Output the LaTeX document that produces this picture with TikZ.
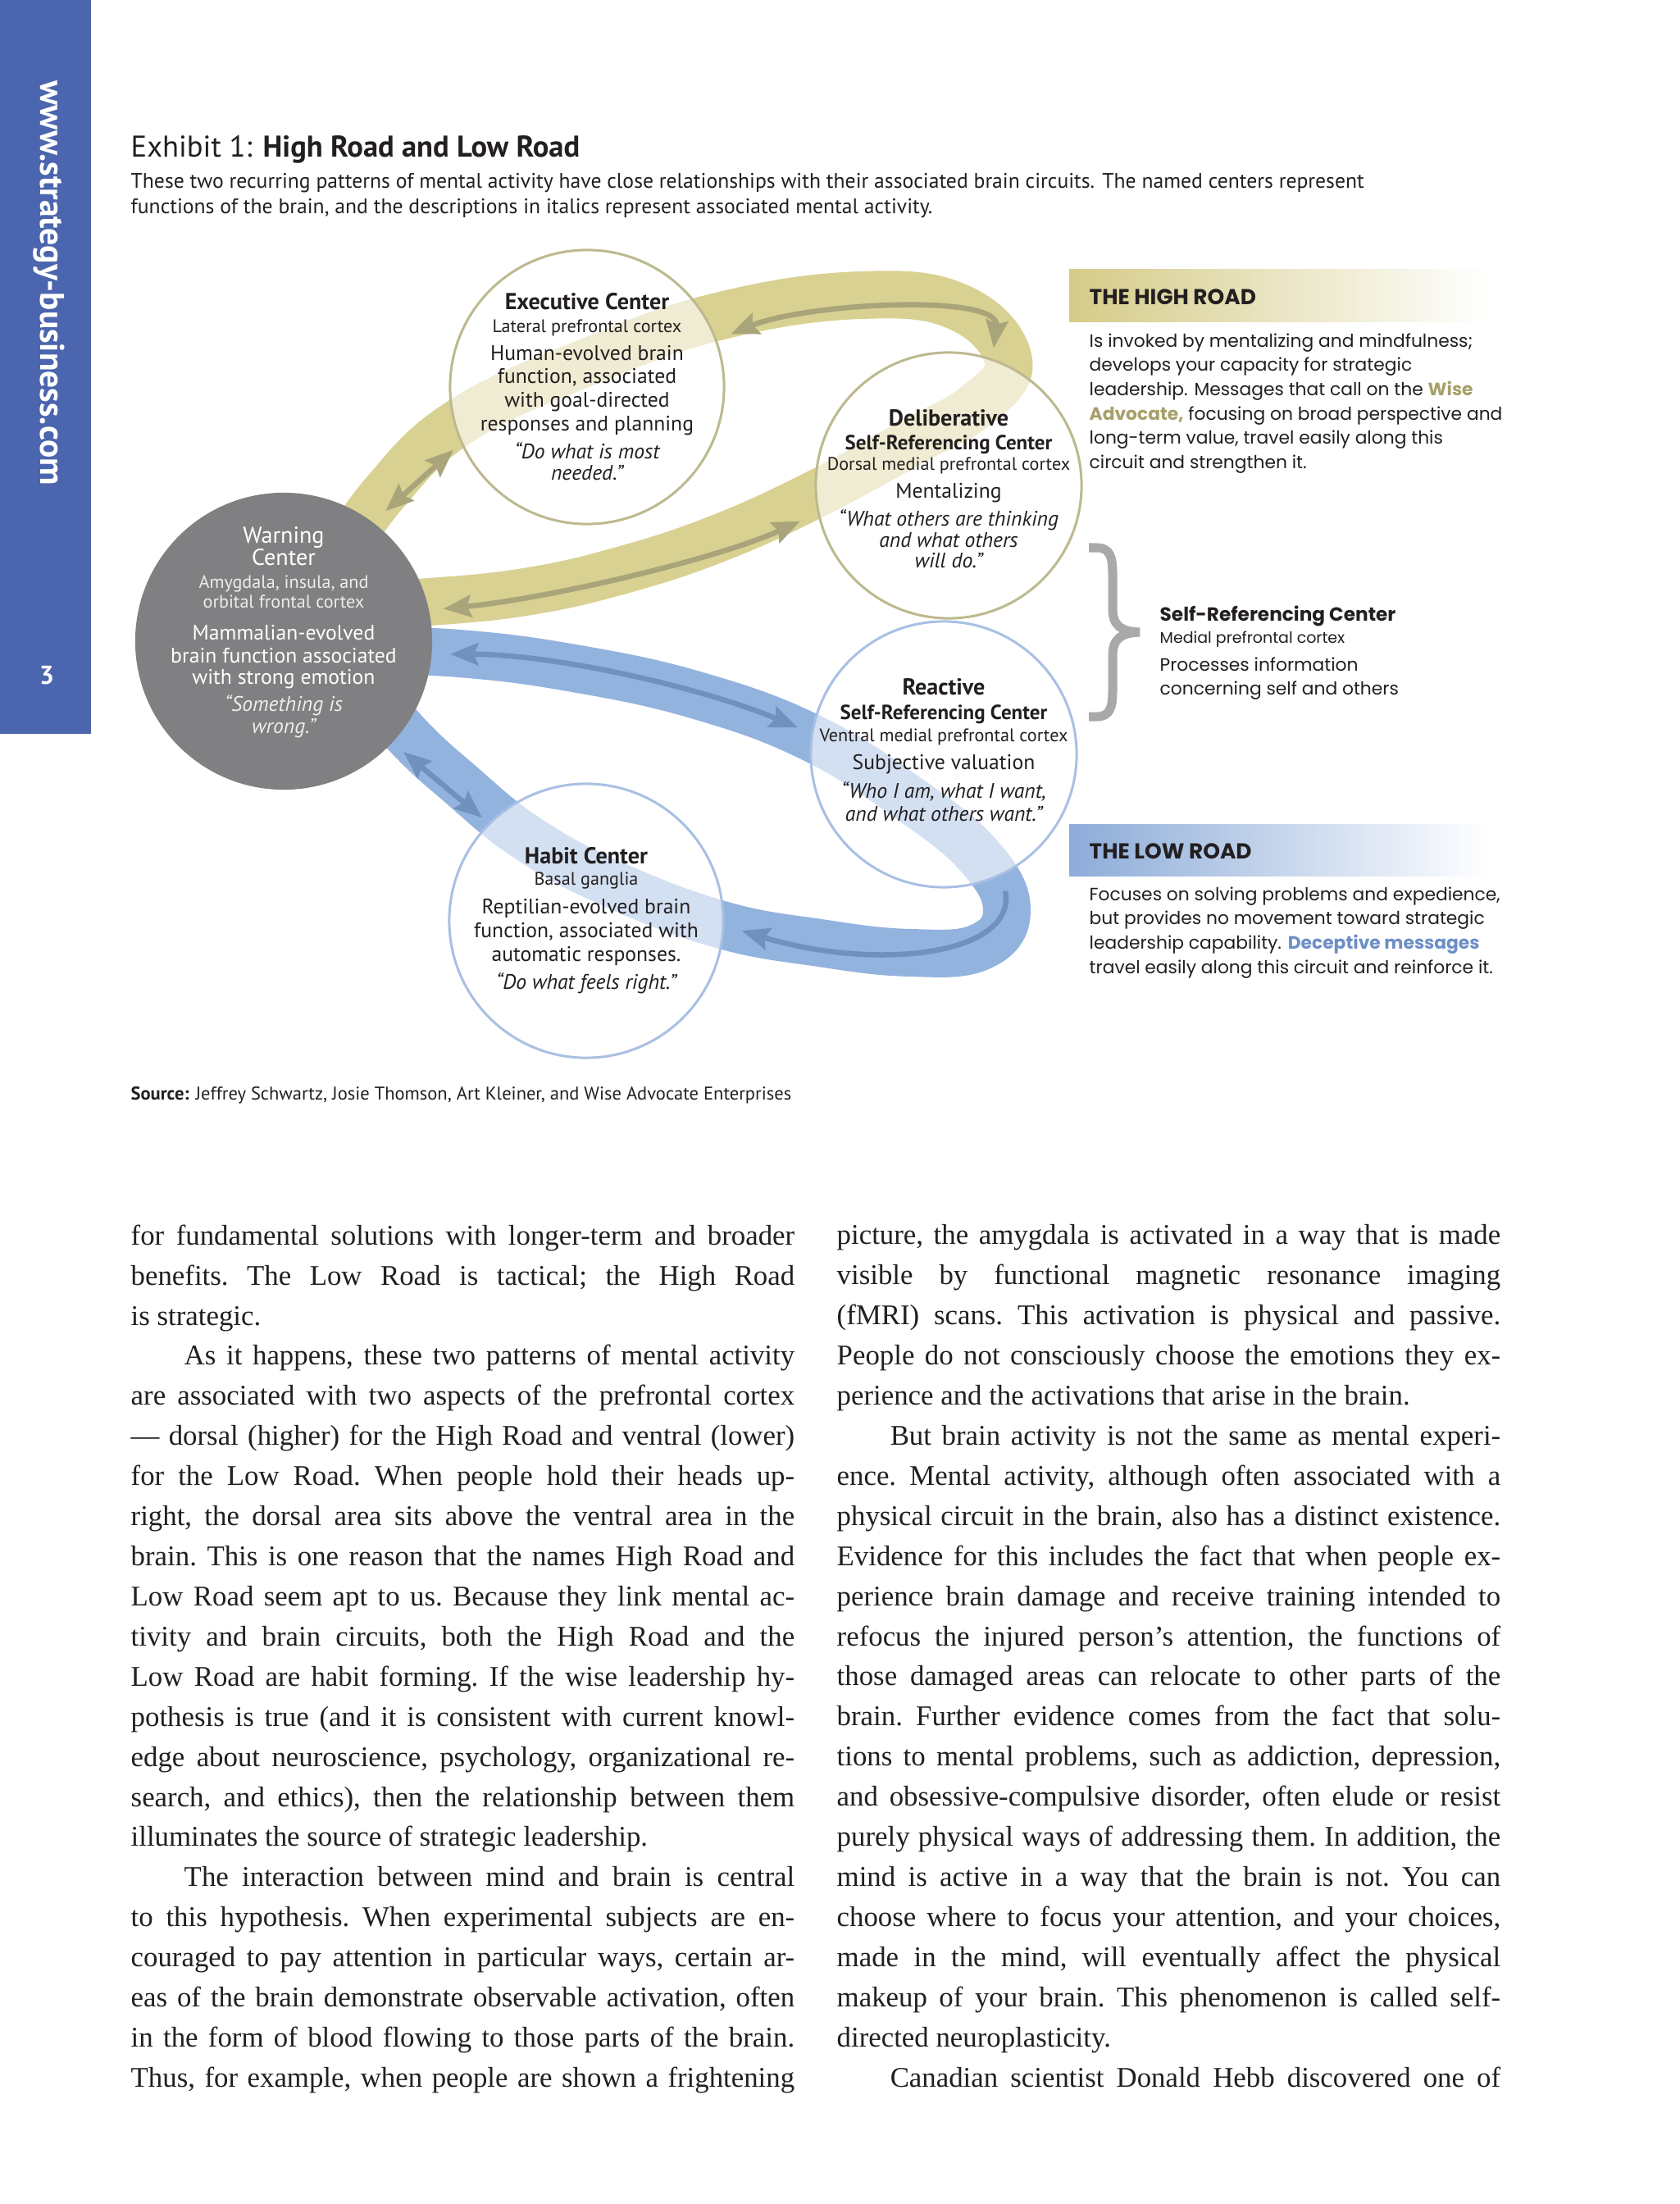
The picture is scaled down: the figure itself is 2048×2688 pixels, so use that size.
\documentclass[tikz,border=0pt]{standalone}
\usepackage{fontspec}
\setmainfont{Liberation Serif}
\newfontfamily\dinfont{PT Sans}
\newfontfamily\popfont{Poppins}
\usepackage{tikz}
\usetikzlibrary{arrows.meta,positioning,calc}
\usepackage{xcolor}
\definecolor{sbblue}{HTML}{4B66AE}
\definecolor{inkgray}{HTML}{231F20}
\definecolor{warngray}{HTML}{808083}
\definecolor{highband}{HTML}{D9D192}
\definecolor{highdark}{HTML}{A9A47A}
\definecolor{highrim}{HTML}{BDB98F}
\definecolor{highhead}{HTML}{D5CB88}
\definecolor{lowband}{HTML}{93B3DF}
\definecolor{lowdark}{HTML}{7090BE}
\definecolor{lowrim}{HTML}{A8C0E3}
\definecolor{lowhead}{HTML}{8DACD9}
\definecolor{wisegreen}{HTML}{A7A06A}
\definecolor{deceptblue}{HTML}{6D8EC7}
\definecolor{bracegray}{HTML}{A9A9AC}

% text sizes inside the circles
\newcommand{\ringtitle}{\bfseries\fontsize{8}{8.2}\selectfont}
\newcommand{\ringsref}{\bfseries\fontsize{7.1}{8.2}\selectfont}
\newcommand{\ringanat}{\fontsize{6.3}{8.2}\selectfont}
\newcommand{\ringquote}{\itshape\fontsize{7.3}{8.2}\selectfont}
\newcommand{\warntitle}{\fontsize{8}{8.2}\selectfont}

% article columns, one box per printed line
\newlength{\colw}
\setlength{\colw}{8.09cm}
\newcommand{\bodysetup}{\fontsize{9.9}{13.91}\selectfont\frenchspacing\spaceskip=.25em plus .4em minus .1em\relax}
\newcommand{\jline}[1]{\hbox to\colw{#1}}
\newcommand{\indline}[1]{\hbox to\colw{\hskip0.65cm#1}}
\newcommand{\lastline}[1]{\hbox to\colw{#1\hfil}}

\begin{document}
\begin{tikzpicture}[x=0.01cm, y=-0.01cm,
  >={Stealth[length=0.34cm,width=0.27cm,inset=0.05cm]},
  hiband/.style={draw=highband, line width=0.58cm},
  loband/.style={draw=lowband, line width=0.58cm},
  hiarrow/.style={draw=highdark, line width=0.065cm},
  loarrow/.style={draw=lowdark, line width=0.065cm},
  hiring/.style={circle, draw=highrim, line width=0.03cm, fill=white, fill opacity=0.6, inner sep=0},
  loring/.style={circle, draw=lowrim, line width=0.03cm, fill=white, fill opacity=0.6, inner sep=0},
  warnring/.style={circle, fill=warngray, minimum size=3.62cm, inner sep=0},
  ringtext/.style={align=center, inner sep=0, text=inkgray, font=\dinfont\fontsize{7.3}{8.2}\selectfont},
  panelhead/.style={inner sep=0, text=inkgray, font=\popfont\bfseries\fontsize{7.5}{8}\selectfont},
  paneltext/.style={align=left, inner sep=0, text=inkgray, font=\popfont\fontsize{6.2}{8.42}\selectfont}]

\fill[white] (0,0) rectangle (2048,2688);
\useasboundingbox (0,0) rectangle (2048,2688);

% side strip
\fill[sbblue] (0,0) rectangle (111,895);
\node[rotate=-90, inner sep=0, text=white, font=\dinfont\bfseries\fontsize{11.8}{13}\selectfont] (siteurl) at (60,345) {www.strategy-business.com};
\node[inner sep=0, text=white, font=\dinfont\bfseries\fontsize{9}{10}\selectfont] (pagenum) at (57,824) {3};

% heading
\node[anchor=base west, inner sep=0, text=inkgray, font=\dinfont\fontsize{10.4}{12}\selectfont] (title) at (159,192) {Exhibit 1: \textbf{High Road and Low Road}};
\node[anchor=base west, inner sep=0, text=inkgray, font=\dinfont\fontsize{7.3}{8}\selectfont] (subone) at (159,230) {These two recurring patterns of mental activity have close relationships with their associated brain circuits. The named centers represent};
\node[anchor=base west, inner sep=0, text=inkgray, font=\dinfont\fontsize{7.3}{8}\selectfont] (subtwo) at (159,261) {functions of the brain, and the descriptions in italics represent associated mental activity.};

% the two roads
\draw[hiband] plot[smooth, tension=0.7] coordinates {(400,700) (470,600) (563,513) (720,440) (880,385) (1050,360) (1170,375) (1230,440) (1190,495) (1110,540) (1000,600) (880,655) (760,695) (640,722) (510,735) (400,740)};
\draw[loband] plot[smooth, tension=0.7] coordinates {(420,792) (560,797) (700,815) (850,848) (990,900) (1110,975) (1195,1045) (1228,1110) (1195,1155) (1110,1162) (1000,1150) (877,1127) (740,1075) (640,1020) (560,955) (500,900) (440,830)};

% centers
\node[hiring, minimum size=3.34cm] (exec) at (716,472) {};
\node[hiring, minimum size=3.24cm] (delib) at (1157,592) {};
\node[loring, minimum size=3.24cm] (react) at (1151,920) {};
\node[loring, minimum size=3.34cm] (habit) at (715,1123) {};
\node[warnring] (warn) at (346,782) {};

% messages travelling along the roads
\draw[hiarrow, <->, shorten <=0.2cm, shorten >=0.12cm] (warn.53) -- (exec.204);
\draw[hiarrow, <->, shorten <=0.18cm, shorten >=0.13cm] (exec.20) .. controls +(110,-45) and +(10,-80) .. (delib.71);
\draw[hiarrow, <->, shorten <=0.17cm, shorten >=0.23cm] (warn.12) .. controls +(150,-15) and +(-120,55) .. (delib.192);
\draw[loarrow, <->, shorten <=0.22cm, shorten >=0.18cm] (warn.355) .. controls +(150,0) and +(-130,-55) .. (react.171);
\draw[loarrow, <->, shorten <=0.17cm, shorten >=0.1cm] (warn.317) -- (habit.135);
\draw[loarrow, ->, shorten <=0.2cm, shorten >=0.22cm] (react.296) .. controls (1240,1165) and (1070,1185) .. (habit.358);

% circle texts
\node[ringtext] (exectxt) at (exec.center) {{\ringtitle Executive Center}\\[-0.5pt]{\ringanat Lateral prefrontal cortex}\\[1.5pt]Human-evolved brain\\function, associated\\with goal-directed\\responses and planning\\[1.5pt]{\ringquote “Do what is most}\\[-0.8pt]{\ringquote needed.”}};
\node[ringtext, yshift=-0.04cm] (delibtxt) at (delib.center) {{\ringtitle Deliberative}\\{\ringsref Self-Referencing Center}\\[-1.1pt]{\ringanat Dorsal medial prefrontal cortex}\\[1.5pt]Mentalizing\\[1.5pt]{\ringquote “What others are thinking}\\[-0.8pt]{\ringquote and what others}\\[-1.1pt]{\ringquote will do.”}};
\node[ringtext, yshift=0.05cm] (reacttxt) at (react.center) {{\ringtitle Reactive}\\[0.35pt]{\ringsref Self-Referencing Center}\\[-0.5pt]{\ringanat Ventral medial prefrontal cortex}\\[1.2pt]Subjective valuation\\[1.75pt]{\ringquote “Who I am, what I want,}\\{\ringquote and what others want.”}};
\node[ringtext] (habittxt) at (habit.center) {{\ringtitle Habit Center}\\[-0.8pt]{\ringanat Basal ganglia}\\[1.75pt]Reptilian-evolved brain\\function, associated with\\automatic responses.\\[1.5pt]{\ringquote “Do what feels right.”}};
\node[ringtext, text=white, yshift=0.11cm] (warntxt) at (warn.center) {{\warntitle Warning}\\[-0.5pt]{\warntitle Center}\\[-0.2pt]{\ringanat\color{white!93!black} Amygdala, insula, and}\\[-1.4pt]{\ringanat\color{white!93!black} orbital frontal cortex}\\[2.9pt]Mammalian-evolved\\[-0.2pt]brain function associated\\[-0.8pt]with strong emotion\\[1.2pt]{\ringquote\color{white!93!black} “Something is}\\[-0.5pt]{\ringquote\color{white!93!black} wrong.”}};

% high road panel
\shade[left color=highhead, right color=white] (1304,329) rectangle (1816,393);
\node[panelhead, anchor=west] (highhead) at (1328,362) {THE HIGH ROAD};
\node[paneltext, anchor=north west] (hightext) at (1328,406) {Is invoked by mentalizing and mindfulness;\\develops your capacity for strategic\\leadership. Messages that call on the {\color{wisegreen}\bfseries Wise}\\{\color{wisegreen}\bfseries Advocate,} focusing on broad perspective and\\long-term value, travel easily along this\\circuit and strengthen it.};

% brace and shared center
\draw[bracegray, line width=0.11cm] (1328,668) -- (1338,668) .. controls (1354,668) and (1357,680) .. (1357,700) -- (1357,742) .. controls (1357,764) and (1368,770) .. (1390,771) .. controls (1368,772) and (1357,778) .. (1357,800) -- (1357,842) .. controls (1357,862) and (1354,874) .. (1338,874) -- (1328,874);
\node[paneltext, anchor=north west, font=\popfont\fontsize{6.2}{8.25}\selectfont] (selfref) at (1414,738) {{\bfseries\fontsize{6.6}{8.25}\selectfont Self-Referencing Center}\\[-0.57pt]{\fontsize{5.4}{8.25}\selectfont Medial prefrontal cortex}\\[1.42pt]Processes information\\concerning self and others};

% low road panel
\shade[left color=lowhead, right color=white] (1304,1005) rectangle (1816,1068);
\node[panelhead, anchor=west] (lowhead) at (1328,1038) {THE LOW ROAD};
\node[paneltext, anchor=north west] (lowtext) at (1328,1081) {Focuses on solving problems and expedience,\\but provides no movement toward strategic\\leadership capability. {\color{deceptblue}\bfseries Deceptive messages}\\travel easily along this circuit and reinforce it.};

% source
\node[anchor=base west, inner sep=0, text=inkgray, font=\dinfont\fontsize{6.4}{7}\selectfont] (source) at (159,1341) {\textbf{Source:} Jeffrey Schwartz, Josie Thomson, Art Kleiner, and Wise Advocate Enterprises};

% article text
\node[anchor=north west, inner sep=0, text=inkgray] (leftcol) at (159,1493) {\vbox{\bodysetup
\jline{for fundamental solutions with longer-term and broader}
\jline{benefits. The Low Road is tactical; the High Road}
\lastline{is strategic.}
\indline{As it happens, these two patterns of mental activity}
\jline{are associated with two aspects of the prefrontal cortex}
\jline{— dorsal (higher) for the High Road and ventral (lower)}
\jline{for the Low Road. When people hold their heads up-}
\jline{right, the dorsal area sits above the ventral area in the}
\jline{brain. This is one reason that the names High Road and}
\jline{Low Road seem apt to us. Because they link mental ac-}
\jline{tivity and brain circuits, both the High Road and the}
\jline{Low Road are habit forming. If the wise leadership hy-}
\jline{pothesis is true (and it is consistent with current knowl-}
\jline{edge about neuroscience, psychology, organizational re-}
\jline{search, and ethics), then the relationship between them}
\lastline{illuminates the source of strategic leadership.}
\indline{The interaction between mind and brain is central}
\jline{to this hypothesis. When experimental subjects are en-}
\jline{couraged to pay attention in particular ways, certain ar-}
\jline{eas of the brain demonstrate observable activation, often}
\jline{in the form of blood flowing to those parts of the brain.}
\jline{Thus, for example, when people are shown a frightening}}};
\node[anchor=north west, inner sep=0, text=inkgray] (rightcol) at (1020,1493) {\vbox{\bodysetup
\jline{picture, the amygdala is activated in a way that is made}
\jline{visible by functional magnetic resonance imaging}
\jline{(fMRI) scans. This activation is physical and passive.}
\jline{People do not consciously choose the emotions they ex-}
\lastline{perience and the activations that arise in the brain.}
\indline{But brain activity is not the same as mental experi-}
\jline{ence. Mental activity, although often associated with a}
\jline{physical circuit in the brain, also has a distinct existence.}
\jline{Evidence for this includes the fact that when people ex-}
\jline{perience brain damage and receive training intended to}
\jline{refocus the injured person’s attention, the functions of}
\jline{those damaged areas can relocate to other parts of the}
\jline{brain. Further evidence comes from the fact that solu-}
\jline{tions to mental problems, such as addiction, depression,}
\jline{and obsessive-compulsive disorder, often elude or resist}
\jline{purely physical ways of addressing them. In addition, the}
\jline{mind is active in a way that the brain is not. You can}
\jline{choose where to focus your attention, and your choices,}
\jline{made in the mind, will eventually affect the physical}
\jline{makeup of your brain. This phenomenon is called self-}
\lastline{directed neuroplasticity.}
\indline{Canadian scientist Donald Hebb discovered one of}}};
\end{tikzpicture}
\end{document}
